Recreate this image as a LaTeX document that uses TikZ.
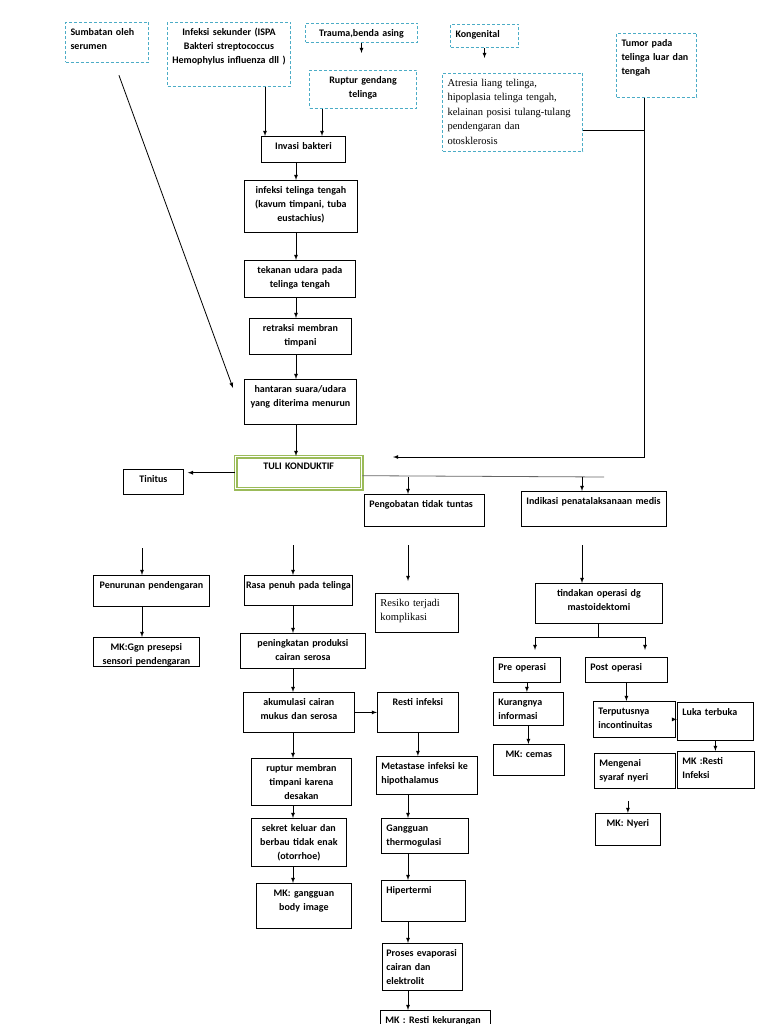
\documentclass[tikz,border=0pt]{standalone}
\usepackage{fontspec}
\setmainfont{Carlito}
\newfontfamily\timesfont{Liberation Serif}
\definecolor{causeblue}{HTML}{4BACC6}
\definecolor{tuligreen}{HTML}{9BBB59}

\begin{document}
\begin{tikzpicture}[
  x=1pt, y=-1pt,
  box/.style={rectangle, draw, line width=0.8pt, anchor=north west, inner xsep=2pt, inner ysep=3pt,
    text height=10pt, align=center, font=\fontsize{10}{14}\selectfont\bfseries},
  lbox/.style={box, inner xsep=5pt, align=left},
  serif/.style={lbox, font=\fontsize{10.5}{14.5}\selectfont\timesfont},
  cause/.style={draw=causeblue, dash pattern=on 3pt off 2pt, line width=1pt},
  tuli/.style={box, draw=tuligreen, double=white, double distance=1pt, line width=1.4pt},
  arr/.style={draw, line width=0.8pt, -latex}
]
\useasboundingbox (0,0) rectangle (768,1024);
\clip (0,0) rectangle (768,1024);

% penyebab
\node [lbox, cause, text width=73pt, text depth=24pt] (sumbatan) at (65,22) {Sumbatan oleh\\serumen};
\node [box, cause, text width=119pt, text depth=48pt] (infsek) at (167,22) {Infeksi sekunder (ISPA\\Bakteri streptococcus\\Hemophylus influenza dll )};
\node [box, cause, text width=108pt, text depth=3pt] (trauma) at (305,23) {Trauma,benda asing};
\node [box, cause, text width=103pt, text depth=22pt] (ruptur) at (309,70) {Ruptur gendang\\telinga};
\node [lbox, cause, text width=58pt, text depth=7pt] (kongenital) at (450,24) {Kongenital};
\node [serif, cause, text width=130pt, text depth=62pt] (atresia) at (442,73) {Atresia liang telinga,\\hipoplasia telinga tengah,\\kelainan posisi tulang-tulang\\pendengaran dan\\otosklerosis};
\node [lbox, cause, text width=70pt, text depth=48pt] (tumor) at (616,33) {Tumor pada\\telinga luar dan\\tengah};

% alur utama
\node [box, text width=80pt, text depth=10pt] (invasi) at (261,136) {Invasi bakteri};
\node [box, text width=109pt, text depth=36pt] (infeksitt) at (244,180) {infeksi telinga tengah\\(kavum timpani, tuba\\eustachius)};
\node [box, text width=107pt, text depth=21pt] (tekanan) at (244,260) {tekanan udara pada\\telinga tengah};
\node [box, text width=98pt, text depth=20pt] (retraksi) at (249,318) {retraksi membran\\timpani};
\node [box, text width=108pt, text depth=29pt] (hantaran) at (244,379) {hantaran suara/udara\\yang diterima menurun};
\node [tuli, text width=122pt, text depth=16pt] (tulik) at (235,456) {TULI KONDUKTIF};
\node [box, text width=56pt, text depth=9pt] (tinitus) at (123,469) {Tinitus};
\node [lbox, text width=110pt, text depth=16pt] (pengobatan) at (364,494) {Pengobatan tidak tuntas};
\node [lbox, text width=135pt, text depth=19pt] (indikasi) at (521,491) {Indikasi penatalaksanaan medis};

% cabang bawah
\node [box, text width=112pt, text depth=15pt] (penurunan) at (93,575) {Penurunan pendengaran};
\node [box, text width=102pt, text depth=13pt] (mkggn) at (93,637) {MK:Ggn presepsi\\sensori pendengaran};
\node [box, inner xsep=0pt, text width=108pt, text depth=14pt] (rasa) at (244,575) {Rasa penuh pada telinga};
\node [box, text width=121pt, text depth=19pt] (peningkatan) at (240,633) {peningkatan produksi\\cairan serosa};
\node [box, text width=107pt, text depth=24pt] (akumulasi) at (243,692) {akumulasi cairan\\mukus dan serosa};
\node [box, text width=96pt, text depth=31pt] (ruptmem) at (251,758) {ruptur membran\\timpani karena\\desakan};
\node [box, text width=91pt, text depth=32pt] (sekret) at (251,818) {sekret keluar dan\\berbau tidak enak\\(otorrhoe)};
\node [box, text width=91pt, text depth=29pt] (mkbody) at (256,883) {MK: gangguan\\body image};
\node [serif, text width=73pt, text depth=23pt] (resiko) at (375,593) {Resiko terjadi\\komplikasi};
\node [box, text width=77pt, text depth=24pt] (restiinf) at (377,692) {Resti infeksi};
\node [lbox, text width=91pt, text depth=22pt] (metastase) at (376,756) {Metastase infeksi ke\\hipothalamus};
\node [lbox, text width=77pt, text depth=19pt] (thermo) at (381,818) {Gangguan\\thermogulasi};
\node [lbox, text width=74pt, text depth=25pt] (hipertermi) at (381,880) {Hipertermi};
\node [lbox, inner xsep=4pt, text width=72pt, text depth=31pt] (proses) at (382,943) {Proses evaporasi\\cairan dan\\elektrolit};
\node [lbox, text width=100pt, text depth=24pt] (mkcairan) at (380,1010) {MK : Resti kekurangan};

% operasi
\node [box, text width=123pt, text depth=24pt] (tindakan) at (535,583) {tindakan operasi dg\\mastoidektomi};
\node [lbox, text width=57pt, text depth=9pt] (pre) at (493,657) {Pre operasi};
\node [lbox, text width=72pt, text depth=9pt] (post) at (585,657) {Post operasi};
\node [lbox, text width=60pt, text depth=17pt] (kurangnya) at (493,692) {Kurangnya\\informasi};
\node [box, text width=67pt, text depth=15pt] (mkcemas) at (493,744) {MK: cemas};
\node [lbox, text width=72pt, text depth=20pt] (terputus) at (593,701) {Terputusnya\\incontinuitas};
\node [lbox, text width=66pt, text depth=22pt] (luka) at (677,702) {Luka terbuka};
\node [lbox, text width=67pt, text depth=21pt] (mkinfeksi) at (677,751) {MK :Resti\\Infeksi};
\node [lbox, text width=71pt, text depth=19pt] (mengenai) at (594,753) {Mengenai\\syaraf nyeri};
\node [box, text width=61pt, text depth=16pt] (mknyeri) at (595,813) {MK: Nyeri};

% titik bantu
\coordinate (colinf) at (265,0);
\coordinate (colrup) at (322,0);
\coordinate (colmain) at (296,0);
\coordinate (sumbend) at (233,388);
\coordinate (atrjoin) at (644,130);
\coordinate (tumorbend) at (644,457);
\coordinate (tumorend) at (393,457);
\coordinate (tuliend) at (604,477);
\coordinate (col1) at (142,548);
\coordinate (col2) at (293,545);
\coordinate (col3) at (408,545);
\coordinate (col4) at (582,545);
\coordinate (split) at (598,637);
\coordinate (prearr) at (535,650);
\coordinate (postarr) at (645,650);

% panah atas
\draw [arr, shorten >=17pt] (trauma) -- (trauma |- ruptur.north);
\draw [arr, shorten >=15pt] (kongenital) -- (kongenital |- atresia.north);
\draw [arr] (colinf |- infsek.south) -- (colinf |- invasi.north);
\draw [arr] (colrup |- ruptur.south) -- (colrup |- invasi.north);
\draw [arr, shorten <=13pt] (sumbatan) -- (sumbend);
\draw [arr] (tumorbend |- tumor.south) -- (tumorbend) -- (tumorend);
\draw (atrjoin -| atresia.east) -- (atrjoin);
\draw [arr] (colmain |- invasi.south) -- (colmain |- infeksitt.north);
\draw [arr] (colmain |- infeksitt.south) -- (colmain |- tekanan.north);
\draw [arr] (colmain |- tekanan.south) -- (colmain |- retraksi.north);
\draw [arr] (colmain |- retraksi.south) -- (colmain |- hantaran.north);
\draw [arr] (colmain |- hantaran.south) -- (colmain |- tulik.north);
\draw [arr, shorten >=4pt] (tulik.west) -- (tulik.west -| tinitus.east);
\draw [line width=0.8pt, black!60] ([yshift=-3pt]tulik.east) -- (tuliend);
\draw [arr] (col3 |- tuliend) -- (col3 |- pengobatan.north);
\draw [arr] (col4 |- tuliend) -- (col4 |- indikasi.north);

% panah bawah
\draw [arr] (col1) -- (col1 |- penurunan.north);
\draw [arr] (col1 |- penurunan.south) -- (col1 |- mkggn.north);
\draw [arr] (col2) -- (col2 |- rasa.north);
\draw [arr] (col2 |- rasa.south) -- (col2 |- peningkatan.north);
\draw [arr] (col2 |- peningkatan.south) -- (col2 |- akumulasi.north);
\draw [arr] (col2 |- akumulasi.south) -- (col2 |- ruptmem.north);
\draw [arr] (col2 |- ruptmem.south) -- (col2 |- sekret.north);
\draw [arr] (col2 |- sekret.south) -- (col2 |- mkbody.north);
\draw [arr] (akumulasi.east) -- (restiinf.west);
\draw [arr] (restiinf) -- (restiinf |- metastase.north);
\draw [arr] (col3 |- metastase.south) -- (col3 |- thermo.north);
\draw [arr] (col3 |- thermo.south) -- (col3 |- hipertermi.north);
\draw [arr] (col3 |- hipertermi.south) -- (col3 |- proses.north);
\draw [arr] (col3 |- proses.south) -- (col3 |- mkcairan.north);
\draw [arr, shorten >=12pt] (col3) -- (col3 |- resiko.north);
\draw [arr] (col4) -- (col4 |- tindakan.north);
\draw [line width=0.8pt] (split |- tindakan.south) -- (split);
\draw [arr] (split) -| (prearr);
\draw [arr] (split) -| (postarr);
\draw [arr] (pre) -- (pre |- kurangnya.north);
\draw [arr] (kurangnya) -- (kurangnya |- mkcemas.north);
\draw [arr] (post) -- (post |- terputus.north);
\draw [arr] (terputus.east) -- (terputus.east -| luka.west);
\draw [arr] (luka) -- (luka |- mkinfeksi.north);
\draw [arr, shorten <=12pt] (mknyeri |- mengenai.south) -- (mknyeri);
\end{tikzpicture}
\end{document}
